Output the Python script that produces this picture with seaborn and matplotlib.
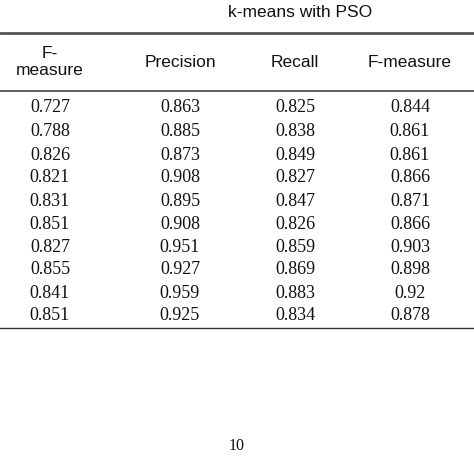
import matplotlib.pyplot as plt
import seaborn as sns

sns.set_theme(style="white")

columns = ["F-\nmeasure", "Precision", "Recall", "F-measure"]
f_measure_prev = ["0.727", "0.788", "0.826", "0.821", "0.831", "0.851", "0.827", "0.855", "0.841", "0.851"]
precision = ["0.863", "0.885", "0.873", "0.908", "0.895", "0.908", "0.951", "0.927", "0.959", "0.925"]
recall = ["0.825", "0.838", "0.849", "0.827", "0.847", "0.826", "0.859", "0.869", "0.883", "0.834"]
f_measure = ["0.844", "0.861", "0.861", "0.866", "0.871", "0.866", "0.903", "0.898", "0.92", "0.878"]
row_y = [107, 132, 156, 178, 201, 224, 247, 270, 293, 316]
col_x = [50, 180, 295, 410]

fig = plt.figure(figsize=(4.74, 4.74), dpi=100)
ax = fig.add_axes([0, 0, 1, 1])
ax.set_xlim(0, 474)
ax.set_ylim(474, 0)
ax.axis("off")

sans = "Liberation Sans"
serif = "Liberation Serif"
ax.text(300, 12, "k-means with PSO", ha="center", va="center", fontsize=12.5, family=sans, color="#111")
ax.plot([0, 474], [33, 33], color="#555", lw=2)
ax.plot([0, 474], [91, 91], color="#555", lw=1.3)
ax.plot([0, 474], [328, 328], color="#333", lw=1)

for x, c in zip(col_x, columns):
    ax.text(x, 62, c, ha="center", va="center", fontsize=12.5, family=sans, color="#111", linespacing=1.1)

for col, x in zip([f_measure_prev, precision, recall, f_measure], col_x):
    for v, y in zip(col, row_y):
        ax.text(x, y, v, ha="center", va="center", fontsize=13, family=serif, color="#111")

ax.text(237, 446, "10", ha="center", va="center", fontsize=11.5, family=serif, color="#111")

fig.savefig("out.png", dpi=100)
